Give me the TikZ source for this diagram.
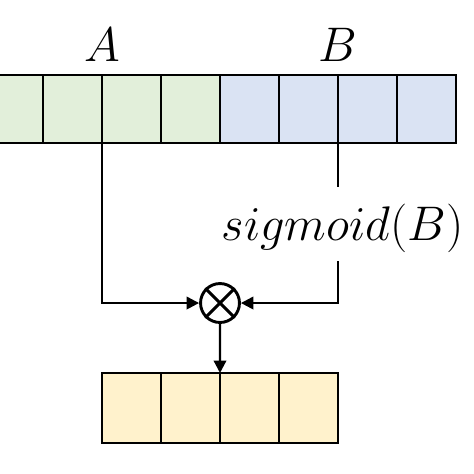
\documentclass[tikz,border=0pt]{standalone}
\usetikzlibrary{arrows.meta}
\definecolor{cellA}{HTML}{E2EFDA}
\definecolor{cellB}{HTML}{DAE3F3}
\definecolor{cellOut}{HTML}{FFF2CC}
\begin{document}
\begin{tikzpicture}[
    cell/.style={draw, line width=1.4pt, minimum width=1cm, inner sep=0pt, outer sep=0pt, anchor=south west},
    link/.style={line width=1.1pt},
    arr/.style={link, -{Triangle[length=6pt,width=6pt]}},
    lbl/.style={font=\fontsize{20}{24}\selectfont, inner sep=0pt, scale=1.13}
]
    \useasboundingbox (0.271,0) rectangle (8.305,8.034);

    % 上面一行: A (绿色) 和 B (蓝色)
    \foreach \i in {1,...,4} {
        \node[cell, fill=cellA, minimum height=1.153cm] (a\i) at (\i-1, 5.61) {};
        \node[cell, fill=cellB, minimum height=1.153cm] (b\i) at (\i+3, 5.61) {};
    }

    % 下面一行: 输出
    \foreach \i in {1,...,4} {
        \node[cell, fill=cellOut, minimum height=1.187cm] (o\i) at (\i+1, 0.525) {};
    }

    % 标签
    \node[lbl] (labA) at (2, 7.27) {$A$};
    \node[lbl] (labB) at (6, 7.27) {$B$};
    \node[lbl] (sig) at (6.08, 4.169) {$sigmoid(B)$};

    % 乘法节点
    \node[draw, circle, line width=1.4pt, minimum size=0.66cm, inner sep=0pt] (mul) at (4, 2.898) {};
    \draw[line width=1.4pt] (mul.north west) -- (mul.south east);
    \draw[line width=1.4pt] (mul.north east) -- (mul.south west);

    % 连线
    \draw[link] (b2.south east) -- ([yshift=8pt]sig.north -| b2.south east);
    \draw[arr] (a2.south east) |- (mul.west);
    \draw[arr] ([yshift=-4pt]sig.south -| b2.south east) |- (mul.east);
    \draw[arr] (mul.south) -- (o2.north east);

\end{tikzpicture}
\end{document}
